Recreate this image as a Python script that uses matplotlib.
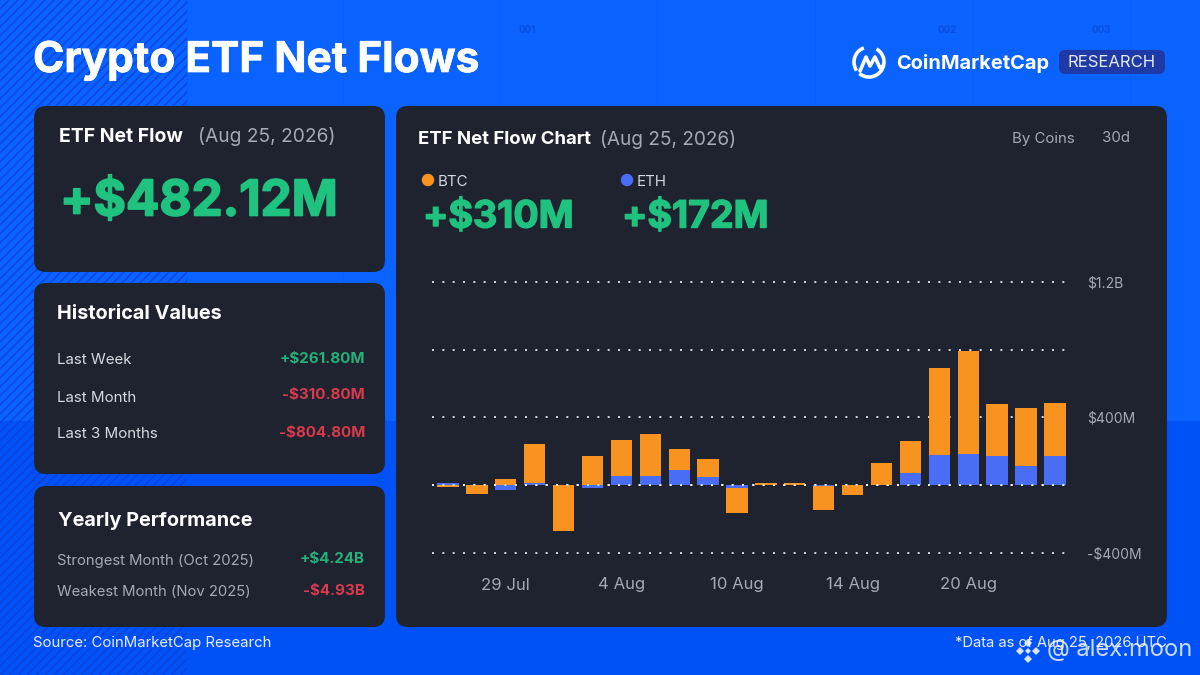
import matplotlib
matplotlib.use('Agg')
import matplotlib.pyplot as plt
import matplotlib.patheffects as pe
from matplotlib.patches import FancyBboxPatch, Rectangle, Arc, Polygon, Circle
import numpy as np

plt.rcParams['font.family'] = ['Inter', 'DejaVu Sans']

# values in $M
btc = [-12, -53, 32, 227, -274, 172, 213, 247, 126, 107, -146, 10, 9, -140, -57, 132, 193, 513, 612, 304, 341, 310]
eth = [14, 2, -32, 12, 2, -16, 51, 51, 89, 46, -20, 1, 1, -6, 0, 0, 69, 176, 182, 172, 112, 172]
tick_bars = [2, 6, 10, 14, 18]
tick_dates = ['29 Jul', '4 Aug', '10 Aug', '14 Aug', '20 Aug']
y_ticks = [-400, 0, 400, 800, 1200]
y_labels = ['-$400M', '', '$400M', '', '$1.2B']
hist_names = ['Last Week', 'Last Month', 'Last 3 Months']
hist_values = ['+$261.80M', '-$310.80M', '-$804.80M']
year_names = ['Strongest Month (Oct 2025)', 'Weakest Month (Nov 2025)']
year_values = ['+$4.24B', '-$4.93B']

GREEN = '#1fc27f'
GREEN2 = '#27b07a'
RED = '#d83a4c'
PANEL = '#1f2330'
ORANGE = '#f7931e'
BLUE = '#4a6df5'
GREY = '#a4a9b5'
LIGHT = '#d5d8df'

fig = plt.figure(figsize=(12, 6.75), dpi=100)
bg = fig.add_axes([0, 0, 1, 1])
bg.set_xlim(0, 1200)
bg.set_ylim(675, 0)
bg.axis('off')

# background with squares and hatching
bg.add_patch(Rectangle((0, 0), 1200, 421, color='#0a62ff', lw=0))
bg.add_patch(Rectangle((0, 421), 1200, 254, color='#0052f7', lw=0))
clip = Rectangle((0, 0), 187, 675, transform=bg.transData)
for x0 in range(0, 900, 9):
    ln, = bg.plot([x0 - 675, x0], [675, 0], color='#0a3fd6', lw=1.3, alpha=0.7)
    ln.set_clip_path(clip)
for vx in [187, 343, 500, 657, 815, 973, 1130]:
    bg.plot([vx, vx], [0, 675], color='#0a50e6', lw=0.5, alpha=0.35)
for fx, ft in [(527, '001'), (947, '002'), (1101, '003')]:
    bg.text(fx, 30, ft, color='#0a50e0', fontsize=7, weight='bold', ha='center', va='center')


def panel(x0, y0, x1, y1):
    r = 12
    bg.add_patch(FancyBboxPatch((x0 + r, y0 + r), x1 - x0 - 2 * r, y1 - y0 - 2 * r,
                                boxstyle='round,pad=%d,rounding_size=%d' % (r, r),
                                fc=PANEL, ec='none', zorder=2))


def txt(x, y, s, size, color='white', weight='normal', ha='left', stroke=0):
    t = bg.text(x, y + 1.5, s, fontsize=size, color=color, weight=weight, ha=ha, va='center', zorder=5)
    if stroke:
        t.set_path_effects([pe.withStroke(linewidth=stroke, foreground=color)])
    return t


panel(34, 106, 385, 272)
panel(34, 283, 385, 474)
panel(34, 486, 385, 627)
panel(396, 106, 1167, 627)

txt(33, 59, 'Crypto ETF Net Flows', 30.5, weight='bold', stroke=0.5)

txt(59, 135.5, 'ETF Net Flow', 14, weight='bold')
txt(198, 135.5, '(Aug 25, 2026)', 13.8, color=GREY)
txt(60, 201, '+$482.12M', 35.6, color=GREEN, weight='bold', stroke=1.2)

txt(57, 312.5, 'Historical Values', 14.3, weight='bold')
for yy, n, v in zip([359, 396, 433], hist_names, hist_values):
    txt(57, yy, n, 10.9, color=LIGHT)
    txt(365, yy - 2, v, 10.9, color=GREEN2 if v[0] == '+' else RED, weight='bold', ha='right')

txt(58, 519, 'Yearly Performance', 14.3, weight='bold')
for yy, n, v in zip([559, 591], year_names, year_values):
    txt(57, yy, n, 10.7, color=GREY)
    txt(365, yy - 1, v, 10.9, color=GREEN2 if v[0] == '+' else RED, weight='bold', ha='right')

txt(33, 642, 'Source: CoinMarketCap Research', 10.75, color='#e8eefc')
txt(1167, 642, '*Data as of Aug 25, 2026 UTC', 10.6, color='#e8eefc', ha='right')

txt(418, 138, 'ETF Net Flow Chart', 13.4, weight='bold')
txt(600, 138, '(Aug 25, 2026)', 13.7, color=GREY)
txt(1012, 137, 'By Coins', 10.8, color=GREY)
txt(1102, 137, '30d', 10.8, color=GREY)

bg.add_patch(Circle((428, 180), 5.5, color=ORANGE, zorder=5))
txt(438, 180, 'BTC', 10.8, color=LIGHT)
bg.add_patch(Circle((627, 180), 5.5, color=BLUE, zorder=5))
txt(637, 180, 'ETH', 10.8, color=LIGHT)
txt(423, 216, '+$%dM' % btc[-1], 27, color=GREEN, weight='bold', stroke=1.0)
txt(622, 216, '+$%dM' % eth[-1], 27, color=GREEN, weight='bold', stroke=1.0)

# logo
bg.add_patch(Arc((869, 62), 30, 30, theta1=-60, theta2=130, color='white', lw=2.6, zorder=5))
bg.add_patch(Arc((869, 62), 30, 30, theta1=145, theta2=250, color='white', lw=2.6, zorder=5))
bg.plot([860, 866, 870, 875, 880, 883], [71, 57, 66, 57, 68, 66], color='white', lw=2.6, zorder=5,
        solid_joinstyle='round', solid_capstyle='round')
txt(896, 62, 'CoinMarketCap', 14.4, weight='bold')
bg.add_patch(FancyBboxPatch((1065, 56), 94, 12, boxstyle='round,pad=6,rounding_size=6',
                            fc='#1f3aa6', ec='none', zorder=4))
txt(1111.5, 61, 'RESEARCH', 12, color='#e6ebfa', ha='center')

# bars
ax = fig.add_axes([432 / 1200, 1 - 552.5 / 675, 640 / 1200, 270.5 / 675], zorder=3)
ax.patch.set_alpha(0)
x = np.arange(len(btc))
step = 28.9
ax.set_xlim((432 - 448) / step, (1072 - 448) / step)
ax.set_ylim(-400, 1200)
btc_a = np.array(btc, dtype=float)
eth_a = np.array(eth, dtype=float)
bottom = np.where(btc_a * eth_a > 0, eth_a, 0)
ax.bar(x, eth_a, width=0.74, color=BLUE, linewidth=0, zorder=3)
ax.bar(x, btc_a, bottom=bottom, width=0.74, color=ORANGE, linewidth=0, zorder=3)
ax.set_yticks(y_ticks)
ax.set_yticklabels(y_labels)
ax.yaxis.tick_right()
ax.set_xticks(tick_bars)
ax.set_xticklabels(tick_dates)
ax.tick_params(axis='y', length=0, colors=GREY, labelsize=10, pad=11)
ax.tick_params(axis='x', length=0, colors=GREY, labelsize=12, pad=18)
ax.grid(axis='y', color='white', lw=1.2, linestyle=(0, (1.2, 5)), alpha=0.95, zorder=1)
ax.xaxis.grid(False)
for g in ax.get_ygridlines():
    g.set_clip_on(False)
ax.axhline(0, color='white', lw=1.2, linestyle=(0, (1.2, 5)), alpha=0.95, zorder=4)
for s in ax.spines.values():
    s.set_visible(False)

# watermark on top
top = fig.add_axes([0, 0, 1, 1], zorder=6)
top.set_xlim(0, 1200)
top.set_ylim(675, 0)
top.axis('off')
top.patch.set_alpha(0)
cx, cy = 1028, 651
for dx, dy, r in [(0, -8, 4), (-8, 0, 4), (8, 0, 4), (0, 8, 4), (0, 0, 3)]:
    top.add_patch(Polygon([(cx + dx, cy + dy - r), (cx + dx + r, cy + dy), (cx + dx, cy + dy + r), (cx + dx - r, cy + dy)],
                          fc='white', ec='none', alpha=0.85))
top.text(1047, 650, '@ alex.moon', fontsize=17, color='white', alpha=0.8, va='center', ha='left')

fig.savefig('out.png', dpi=100)
